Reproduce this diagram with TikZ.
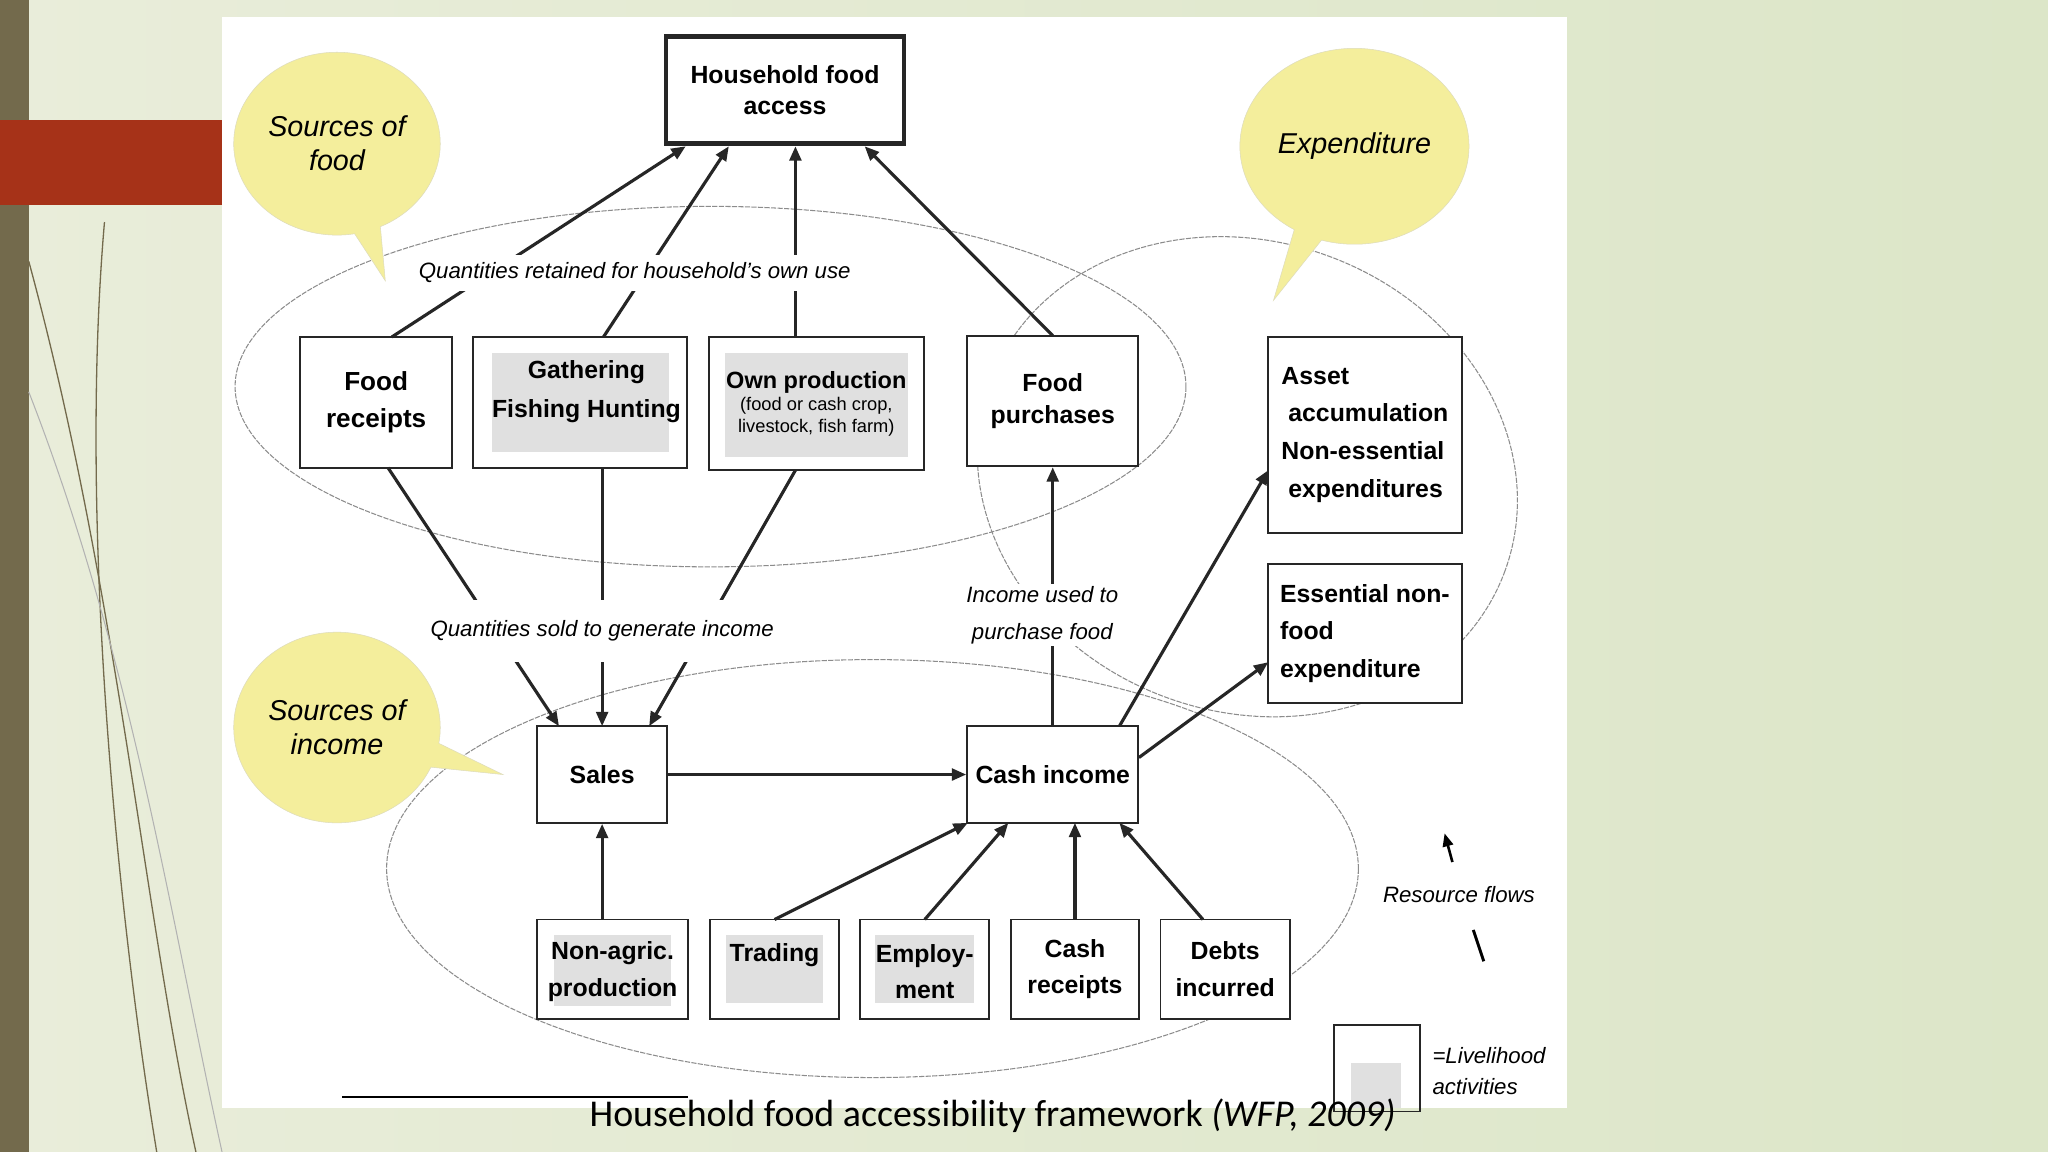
\documentclass[tikz,border=0pt]{standalone}
\usepackage{fontspec}
\setmainfont{Liberation Sans}
\newfontfamily\capfont{Carlito}
\usetikzlibrary{arrows.meta,shapes.callouts}
\definecolor{bgl}{HTML}{E9EDDA}
\definecolor{bgr}{HTML}{DCE6C8}
\definecolor{strip}{HTML}{736A4C}
\definecolor{redbar}{HTML}{A63218}
\definecolor{bubfill}{HTML}{F4EE9C}
\begin{document}
\begin{tikzpicture}[x=1pt,y=-1pt,
 box/.style={draw=black!85,line width=1.5pt,fill=white,align=center,font=\fontsize{19}{24}\selectfont\bfseries,inner sep=0pt},
 ar/.style={-{Triangle[length=11pt,width=9pt]},line width=2.4pt,black!85},
 lab/.style={fill=white,font=\fontsize{17}{21}\selectfont\itshape,inner sep=2pt,align=center},
 ell/.style={draw=black!45,line width=0.8pt,dash pattern=on 4pt off 1pt},
 bub/.style={fill=bubfill,draw=yellow!50!black!30,font=\fontsize{22}{26}\selectfont\itshape\rmfamily,align=center}]
\useasboundingbox (0,0) rectangle (1568,882);
\shade[left color=bgl, right color=bgr] (0,0) rectangle (1568,882);
\fill[strip] (0,0) rectangle (22,882);
\draw[strip,line width=1pt] (22,200) .. controls (90,450) and (110,700) .. (150,882);
\draw[strip,line width=1pt] (80,170) .. controls (60,400) and (90,700) .. (120,882);
\draw[black!30,line width=0.8pt] (22,300) .. controls (100,500) and (130,700) .. (170,882);
\fill[redbar] (0,92) rectangle (170,157);
\fill[white] (170,13) rectangle (1200,848);
% ellipses
\draw[ell] (544,296) ellipse [x radius=364,y radius=138];
\draw[ell] (668,665) ellipse [x radius=372,y radius=160];
\draw[ell,rotate around={-20:(955,365)}] (955,365) ellipse [x radius=210,y radius=180];
% bubbles
\node[bub,ellipse callout,minimum width=146pt,minimum height=140pt,callout absolute pointer={(295,215)}] (b1) at (258,110) {Sources of\\food};
\node[bub,ellipse callout,minimum width=166pt,minimum height=150pt,callout absolute pointer={(975,230)}] (b2) at (1037,112) {Expenditure};
\node[bub,ellipse callout,minimum width=146pt,minimum height=146pt,callout absolute pointer={(385,593)}] (b3) at (258,557) {Sources of\\income};
% boxes
\node[box,line width=3.5pt,minimum width=182pt,minimum height=82pt] (hfa) at (601,69) {Household food\\access};
\node[box,minimum width=116pt,minimum height=100pt,font=\fontsize{20}{28}\selectfont\bfseries] (fr) at (288,308) {Food\\receipts};
\node[box,minimum width=164pt,minimum height=100pt] (gf) at (444,308) {};
\fill[black!12] (377,270) rectangle (512,346);
\node[font=\fontsize{19}{30}\selectfont\bfseries,align=center] at (449,300) {Gathering\\Fishing Hunting};
\node[box,minimum width=165pt,minimum height=102pt] (op) at (625,309) {};
\fill[black!12] (555,270) rectangle (695,350);
\node[align=center] at (625,309) {\fontsize{18}{22}\selectfont\bfseries Own production\\[2pt]\fontsize{14}{16}\selectfont(food or cash crop,\\[3pt]\fontsize{14}{16}\selectfont livestock, fish farm)};
\node[box,minimum width=131pt,minimum height=100pt] (fp) at (806,307) {Food\\purchases};
\node[box,minimum width=148pt,minimum height=150pt,align=left,font=\fontsize{19}{29}\selectfont\bfseries] (aa) at (1045,333) {Asset\\\ accumulation\\Non-essential\\\ expenditures};
\node[box,minimum width=148pt,minimum height=106pt,align=left,font=\fontsize{19}{29}\selectfont\bfseries] (en) at (1045,485) {Essential non-\\food\\expenditure};
\node[box,minimum width=99pt,minimum height=74pt] (sa) at (461,593) {Sales};
\node[box,minimum width=131pt,minimum height=74pt] (ci) at (806,593) {Cash income};
\node[box,minimum width=116pt,minimum height=76pt] (na) at (469,742) {};
\fill[black!12] (424,716) rectangle (514,770);
\node[font=\fontsize{19}{28}\selectfont\bfseries,align=center] at (469,744) {Non-agric.\\production};
\node[box,minimum width=99pt,minimum height=76pt] (tr) at (593,742) {};
\fill[black!12] (556,716) rectangle (630,768);
\node[font=\fontsize{19}{22}\selectfont\bfseries] at (593,731) {Trading};
\node[box,minimum width=99pt,minimum height=76pt] (em) at (708,742) {};
\fill[black!12] (670,716) rectangle (746,768);
\node[font=\fontsize{19}{28}\selectfont\bfseries,align=center] at (708,744) {Employ-\\ment};
\node[box,minimum width=98pt,minimum height=76pt,font=\fontsize{19}{28}\selectfont\bfseries] (cr) at (823,742) {Cash\\receipts};
\node[box,minimum width=99pt,minimum height=76pt,font=\fontsize{19}{28}\selectfont\bfseries] (di) at (938,742) {Debts\\incurred};
% arrows
\draw[ar] (300,258) -- (525,112);
\draw[ar] (462,258) -- (558,112);
\draw[ar] (609,258) -- (609,112);
\draw[ar] (806,257) -- (662,112);
\draw[ar] (297,358) -- (428,556);
\draw[ar] (461,358) -- (461,556);
\draw[ar] (609,360) -- (497,556);
\draw[ar] (sa) -- (ci);
\draw[ar] (806,556) -- (fp);
\draw[ar] (857,556) -- (971,360);
\draw[ar] (872,580) -- (971,507);
\draw[ar] (461,704) -- (sa);
\draw[ar] (593,704) -- (741,630);
\draw[ar] (708,704) -- (772,630);
\draw[ar] (823,704) -- (823,630);
\draw[ar] (921,704) -- (857,630);
\node[lab,inner ysep=6pt] (l1) at (486,209) {Quantities retained for household's own use};
\node[lab,inner ysep=16pt] (l2) at (461,483) {Quantities sold to generate income};
\node[lab,font=\fontsize{17}{28}\selectfont\itshape] (l3) at (798,471) {Income used to\\purchase food};
\node[font=\fontsize{17}{20}\selectfont\itshape] (l4) at (1117,685) {Resource flows};
\coordinate (r1) at (1106,638); \coordinate (r1b) at (1112,660);
\draw[-{Triangle[length=10pt,width=8pt]},line width=2pt] (r1b) -- (r1);
\coordinate (r2a) at (1128,712); \coordinate (r2b) at (1136,736);
\draw[line width=2.2pt] (r2a) -- (r2b);
\node[draw=black!85,line width=1.5pt,minimum width=66pt,minimum height=66pt] (lg) at (1054,818) {};
\fill[black!12] (1034,814) rectangle (1073,848);
\node[font=\fontsize{17}{24}\selectfont\itshape,align=left] (lt) at (1140,820) {=Livelihood\\activities};
\draw[line width=1.2pt] (262,840) -- (527,840);
\node[font=\capfont\fontsize{29}{32}\selectfont] (cap) at (760,854) {Household food accessibility framework \textit{(WFP, 2009)}};
\end{tikzpicture}
\end{document}
